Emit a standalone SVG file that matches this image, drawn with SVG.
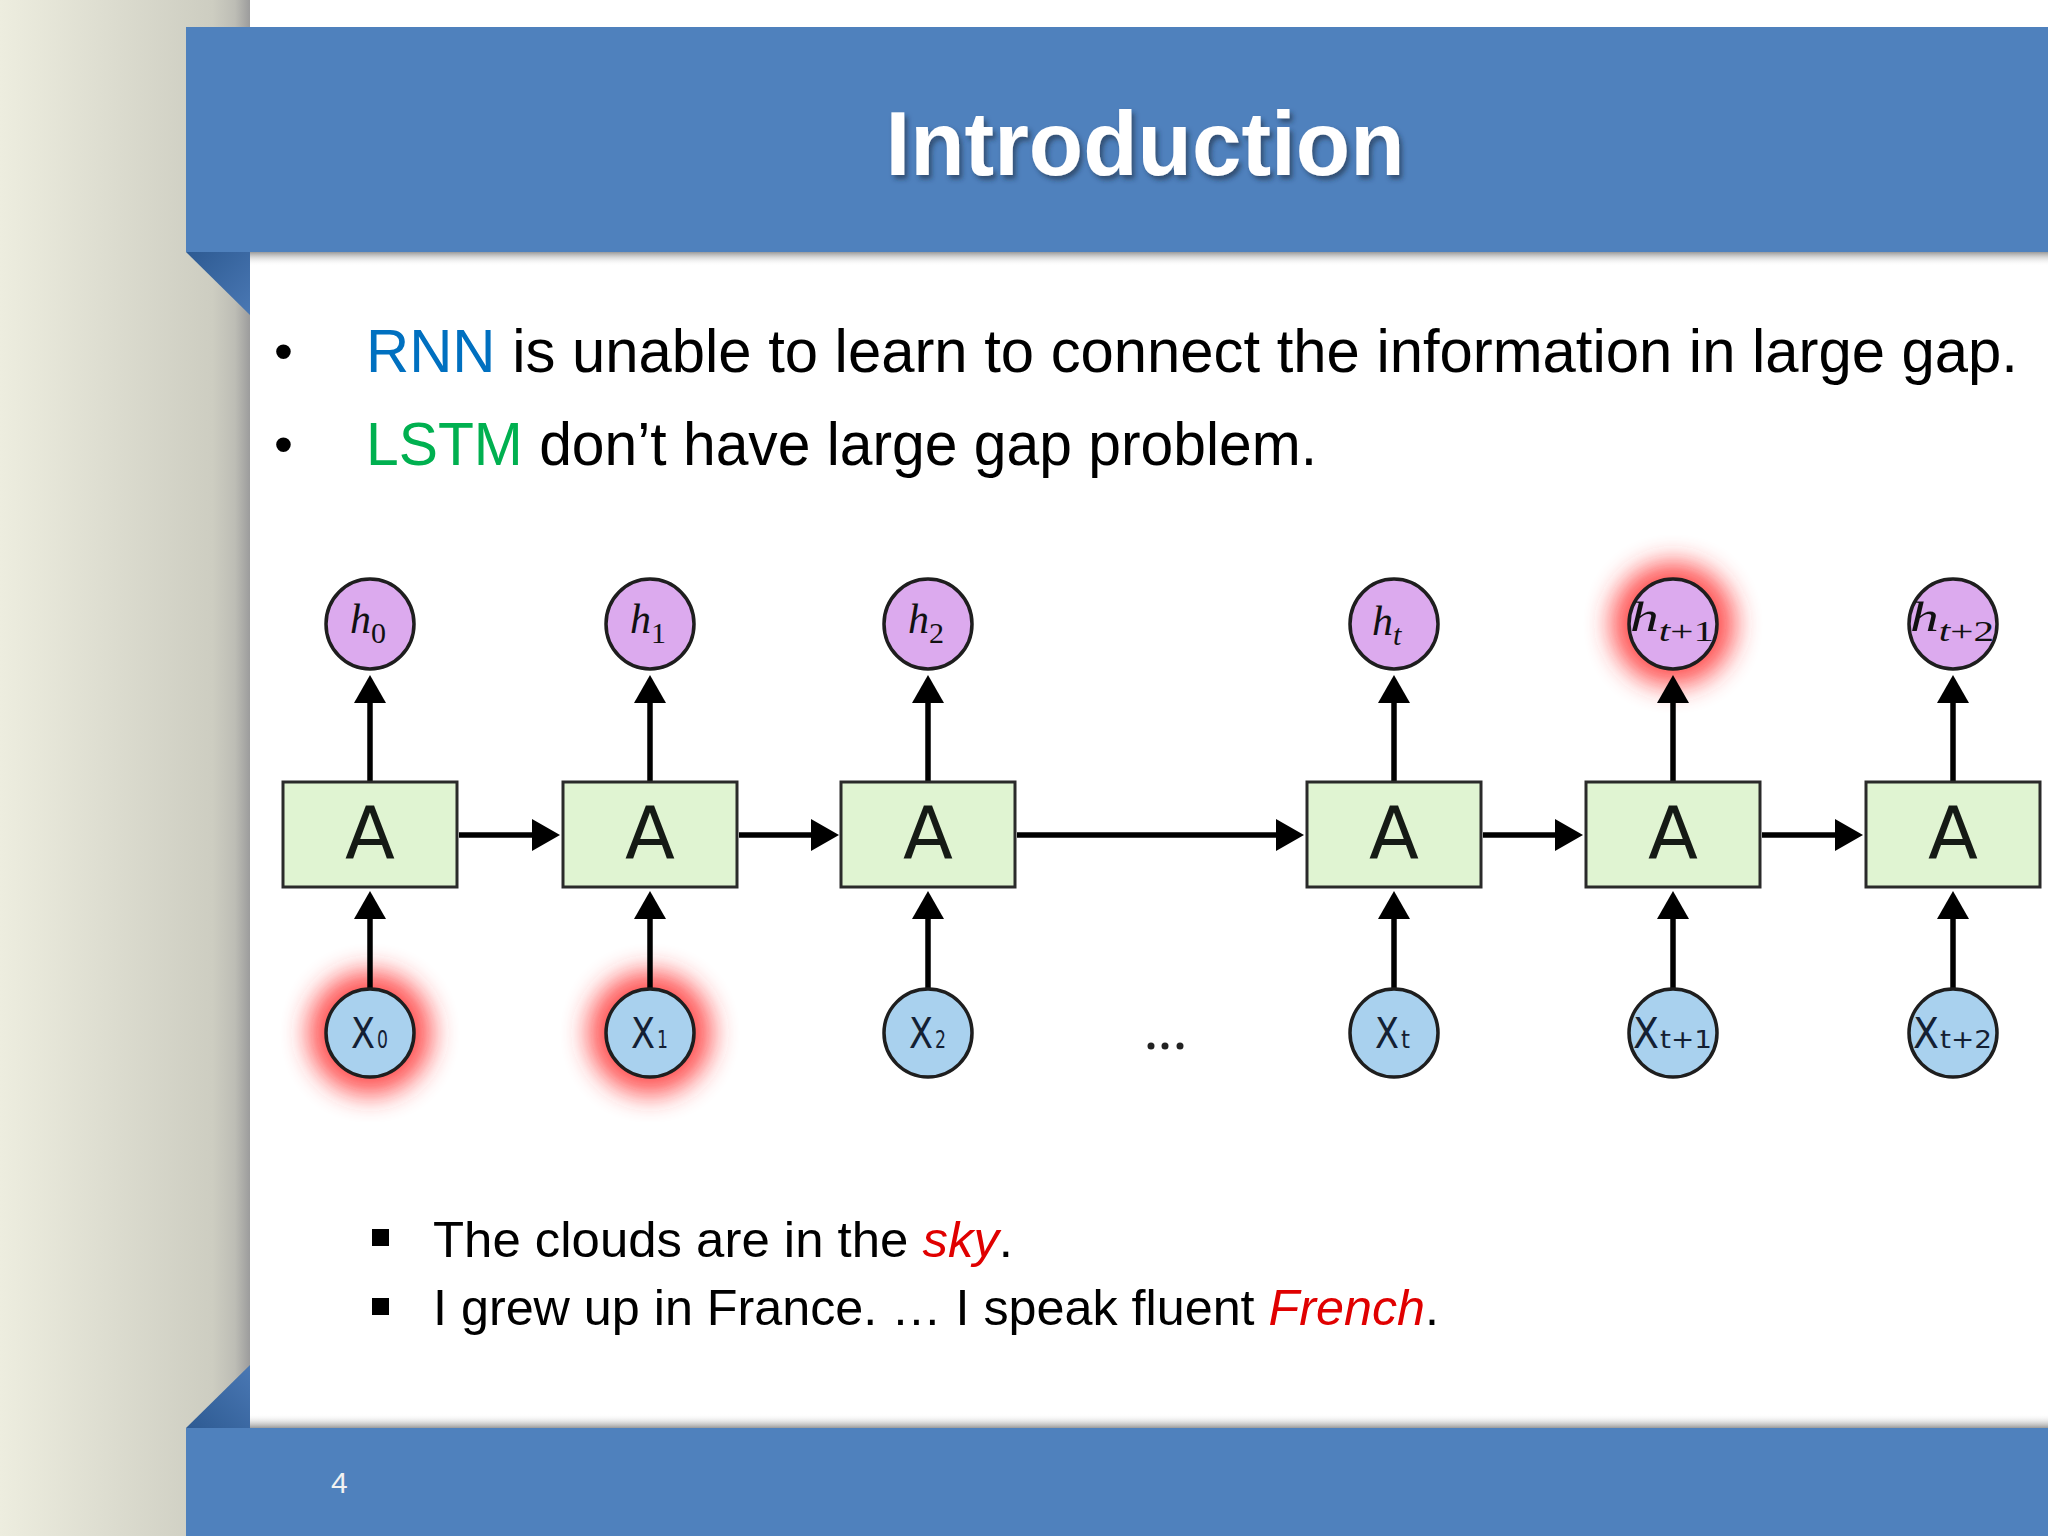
<svg xmlns="http://www.w3.org/2000/svg" width="2048" height="1536" viewBox="0 0 2048 1536">
<style>
.body{font-family:"Liberation Sans",Arial,sans-serif;fill:#000}
.box{fill:#e0f4d2;stroke:#2a2a2a;stroke-width:3}
.hc{fill:#dcaaee;stroke:#1e1e1e;stroke-width:3.5}
.xc{fill:#a9d1ee;stroke:#1e1e1e;stroke-width:3.5}
.A{font-family:"DejaVu Sans",Verdana,sans-serif;font-size:73px;fill:#151a15;text-anchor:middle}
.hl{font-family:"Liberation Serif","Times New Roman",serif;font-style:italic;font-size:42px;fill:#111}
.hs{font-size:30px}
.up{font-style:normal}
.xl{font-family:"DejaVu Sans",Verdana,sans-serif;font-size:42px;fill:#142033}
.xs{font-size:24px}
.conn line{stroke:#000;stroke-width:5.5}
.glow{fill:#ff2a2a;opacity:0.8}
</style>
<defs>
<linearGradient id="panel" x1="0" y1="0" x2="1" y2="0">
<stop offset="0" stop-color="#ededdf"/>
<stop offset="0.85" stop-color="#cdcdc1"/>
<stop offset="0.94" stop-color="#bdbdb5"/>
<stop offset="1" stop-color="#9c9c9c"/>
</linearGradient>
<linearGradient id="fold1" x1="0" y1="0" x2="1" y2="1">
<stop offset="0" stop-color="#2d5a92"/>
<stop offset="1" stop-color="#4a78b4"/>
</linearGradient>
<linearGradient id="fold2" x1="0" y1="1" x2="1" y2="0">
<stop offset="0" stop-color="#2d5a92"/>
<stop offset="1" stop-color="#4a78b4"/>
</linearGradient>
<linearGradient id="shTop" x1="0" y1="0" x2="0" y2="1">
<stop offset="0" stop-color="#9a9a9a"/>
<stop offset="1" stop-color="#ffffff" stop-opacity="0"/>
</linearGradient>
<linearGradient id="shBot" x1="0" y1="1" x2="0" y2="0">
<stop offset="0" stop-color="#9a9a9a"/>
<stop offset="1" stop-color="#ffffff" stop-opacity="0"/>
</linearGradient>
<filter id="tshadow" x="-10%" y="-20%" width="120%" height="150%">
<feDropShadow dx="3" dy="4" stdDeviation="2.5" flood-color="#1a2a40" flood-opacity="0.6"/>
</filter>
<filter id="blur" x="-60%" y="-60%" width="220%" height="220%">
<feGaussianBlur stdDeviation="13"/>
</filter>
<marker id="ah" markerUnits="userSpaceOnUse" markerWidth="30" markerHeight="34" refX="8" refY="16" orient="auto">
<path d="M0,0 L28,16 L0,32 z" fill="#000"/>
</marker>
</defs>

<!-- page background -->
<rect x="0" y="0" width="2048" height="1536" fill="#ffffff"/>
<rect x="0" y="0" width="250" height="1536" fill="url(#panel)"/>

<!-- header -->
<g id="header">
<rect x="250" y="252" width="1798" height="14" fill="url(#shTop)"/>
<rect x="186" y="27" width="1862" height="225" fill="#4f81bd"/>
<polygon points="186,252 250,252 250,315" fill="url(#fold1)"/>
<text x="1145" y="175" text-anchor="middle" font-family="'Liberation Sans',Arial,sans-serif" font-weight="bold" font-size="91" fill="#ffffff" textLength="519" lengthAdjust="spacingAndGlyphs" filter="url(#tshadow)">Introduction</text>
</g>

<!-- bullets -->
<g id="bullets" class="body">
<text x="274" y="370" font-size="54">•</text>
<text x="366" y="372" font-size="62" textLength="1652" lengthAdjust="spacingAndGlyphs"><tspan fill="#0070c0">RNN</tspan> is unable to learn to connect the information in large gap.</text>
<text x="274" y="463" font-size="54">•</text>
<text x="366" y="465" font-size="62" textLength="951" lengthAdjust="spacingAndGlyphs"><tspan fill="#00b050">LSTM</tspan> don’t have large gap problem.</text>
</g>

<!-- glows -->
<g id="glows">
<ellipse class="glow" cx="370" cy="1033" rx="62" ry="62" filter="url(#blur)"/>
<ellipse class="glow" cx="650" cy="1033" rx="62" ry="62" filter="url(#blur)"/>
<ellipse class="glow" cx="1673" cy="624" rx="62" ry="62" filter="url(#blur)"/>
</g>

<!-- connectors -->
<g id="connectors" class="conn">
<line x1="370" y1="782" x2="370" y2="695" marker-end="url(#ah)"/>
<line x1="650" y1="782" x2="650" y2="695" marker-end="url(#ah)"/>
<line x1="928" y1="782" x2="928" y2="695" marker-end="url(#ah)"/>
<line x1="1394" y1="782" x2="1394" y2="695" marker-end="url(#ah)"/>
<line x1="1673" y1="782" x2="1673" y2="695" marker-end="url(#ah)"/>
<line x1="1953" y1="782" x2="1953" y2="695" marker-end="url(#ah)"/>
<line x1="370" y1="990" x2="370" y2="911" marker-end="url(#ah)"/>
<line x1="650" y1="990" x2="650" y2="911" marker-end="url(#ah)"/>
<line x1="928" y1="990" x2="928" y2="911" marker-end="url(#ah)"/>
<line x1="1394" y1="990" x2="1394" y2="911" marker-end="url(#ah)"/>
<line x1="1673" y1="990" x2="1673" y2="911" marker-end="url(#ah)"/>
<line x1="1953" y1="990" x2="1953" y2="911" marker-end="url(#ah)"/>
<line x1="459" y1="835" x2="540" y2="835" marker-end="url(#ah)"/>
<line x1="739" y1="835" x2="819" y2="835" marker-end="url(#ah)"/>
<line x1="1017" y1="835" x2="1284" y2="835" marker-end="url(#ah)"/>
<line x1="1483" y1="835" x2="1563" y2="835" marker-end="url(#ah)"/>
<line x1="1762" y1="835" x2="1843" y2="835" marker-end="url(#ah)"/>
</g>

<!-- cells -->
<g id="A0"><rect class="box" x="283" y="782" width="174" height="105"/><text class="A" x="370" y="859">A</text></g>
<g id="A1"><rect class="box" x="563" y="782" width="174" height="105"/><text class="A" x="650" y="859">A</text></g>
<g id="A2"><rect class="box" x="841" y="782" width="174" height="105"/><text class="A" x="928" y="859">A</text></g>
<g id="At"><rect class="box" x="1307" y="782" width="174" height="105"/><text class="A" x="1394" y="859">A</text></g>
<g id="At1"><rect class="box" x="1586" y="782" width="174" height="105"/><text class="A" x="1673" y="859">A</text></g>
<g id="At2"><rect class="box" x="1866" y="782" width="174" height="105"/><text class="A" x="1953" y="859">A</text></g>

<!-- outputs -->
<g id="h0"><ellipse class="hc" cx="370" cy="624" rx="44" ry="45"/><text class="hl" x="350" y="633" font-size="44">h<tspan class="hs up" dy="10">0</tspan></text></g>
<g id="h1"><ellipse class="hc" cx="650" cy="624" rx="44" ry="45"/><text class="hl" x="630" y="633" font-size="44">h<tspan class="hs up" dy="10">1</tspan></text></g>
<g id="h2"><ellipse class="hc" cx="928" cy="624" rx="44" ry="45"/><text class="hl" x="908" y="633" font-size="44">h<tspan class="hs up" dy="10">2</tspan></text></g>
<g id="ht"><ellipse class="hc" cx="1394" cy="624" rx="44" ry="45"/><text class="hl" x="1372" y="635" font-size="48">h<tspan class="hs" dy="10" font-size="36">t</tspan></text></g>
<g id="ht1"><ellipse class="hc" cx="1673" cy="624" rx="44" ry="45"/><text class="hl" x="1630" y="631" font-size="44" textLength="84" lengthAdjust="spacingAndGlyphs">h<tspan class="hs" dy="10" font-size="32">t</tspan><tspan class="hs up" font-size="32">+1</tspan></text></g>
<g id="ht2"><ellipse class="hc" cx="1953" cy="624" rx="44" ry="45"/><text class="hl" x="1910" y="631" font-size="44" textLength="84" lengthAdjust="spacingAndGlyphs">h<tspan class="hs" dy="10" font-size="32">t</tspan><tspan class="hs up" font-size="32">+2</tspan></text></g>

<!-- inputs -->
<g id="x0"><ellipse class="xc" cx="370" cy="1033" rx="44" ry="44"/><text class="xl" x="351" y="1048" textLength="24" lengthAdjust="spacingAndGlyphs">X</text><text class="xl xs" x="377" y="1048" textLength="11" lengthAdjust="spacingAndGlyphs">0</text></g>
<g id="x1"><ellipse class="xc" cx="650" cy="1033" rx="44" ry="44"/><text class="xl" x="631" y="1048" textLength="24" lengthAdjust="spacingAndGlyphs">X</text><text class="xl xs" x="657" y="1048" textLength="11" lengthAdjust="spacingAndGlyphs">1</text></g>
<g id="x2"><ellipse class="xc" cx="928" cy="1033" rx="44" ry="44"/><text class="xl" x="909" y="1048" textLength="24" lengthAdjust="spacingAndGlyphs">X</text><text class="xl xs" x="935" y="1048" textLength="11" lengthAdjust="spacingAndGlyphs">2</text></g>
<g id="xt"><ellipse class="xc" cx="1394" cy="1033" rx="44" ry="44"/><text class="xl" x="1375" y="1048" textLength="24" lengthAdjust="spacingAndGlyphs">X</text><text class="xl xs" x="1401" y="1048" textLength="9" lengthAdjust="spacingAndGlyphs">t</text></g>
<g id="xt1"><ellipse class="xc" cx="1673" cy="1033" rx="44" ry="44"/><text class="xl" x="1633" y="1048" textLength="26" lengthAdjust="spacingAndGlyphs">X</text><text class="xl xs" x="1660" y="1048" textLength="52" lengthAdjust="spacingAndGlyphs">t+1</text></g>
<g id="xt2"><ellipse class="xc" cx="1953" cy="1033" rx="44" ry="44"/><text class="xl" x="1913" y="1048" textLength="26" lengthAdjust="spacingAndGlyphs">X</text><text class="xl xs" x="1940" y="1048" textLength="52" lengthAdjust="spacingAndGlyphs">t+2</text></g>

<!-- ellipsis -->
<g id="dots" fill="#222">
<circle cx="1151" cy="1046" r="3.5"/>
<circle cx="1165" cy="1046" r="3.5"/>
<circle cx="1180" cy="1046" r="3.5"/>
</g>

<!-- examples -->
<g id="examples" class="body">
<rect x="372" y="1229" width="17" height="17" fill="#000"/>
<text x="433" y="1257" font-size="50" textLength="580" lengthAdjust="spacingAndGlyphs">The clouds are in the <tspan fill="#e00000" font-style="italic">sky</tspan>.</text>
<rect x="372" y="1298" width="17" height="17" fill="#000"/>
<text x="433" y="1325" font-size="50" textLength="1006" lengthAdjust="spacingAndGlyphs">I grew up in France. … I speak fluent <tspan fill="#e00000" font-style="italic">French</tspan>.</text>
</g>

<!-- footer -->
<g id="footer">
<rect x="250" y="1414" width="1798" height="14" fill="url(#shBot)"/>
<polygon points="186,1428 250,1428 250,1365" fill="url(#fold2)"/>
<rect x="186" y="1428" width="1862" height="108" fill="#4f81bd"/>
<text x="331" y="1493" font-family="'Liberation Sans',Arial,sans-serif" font-size="30" fill="#f2f2f2">4</text>
</g>
</svg>
